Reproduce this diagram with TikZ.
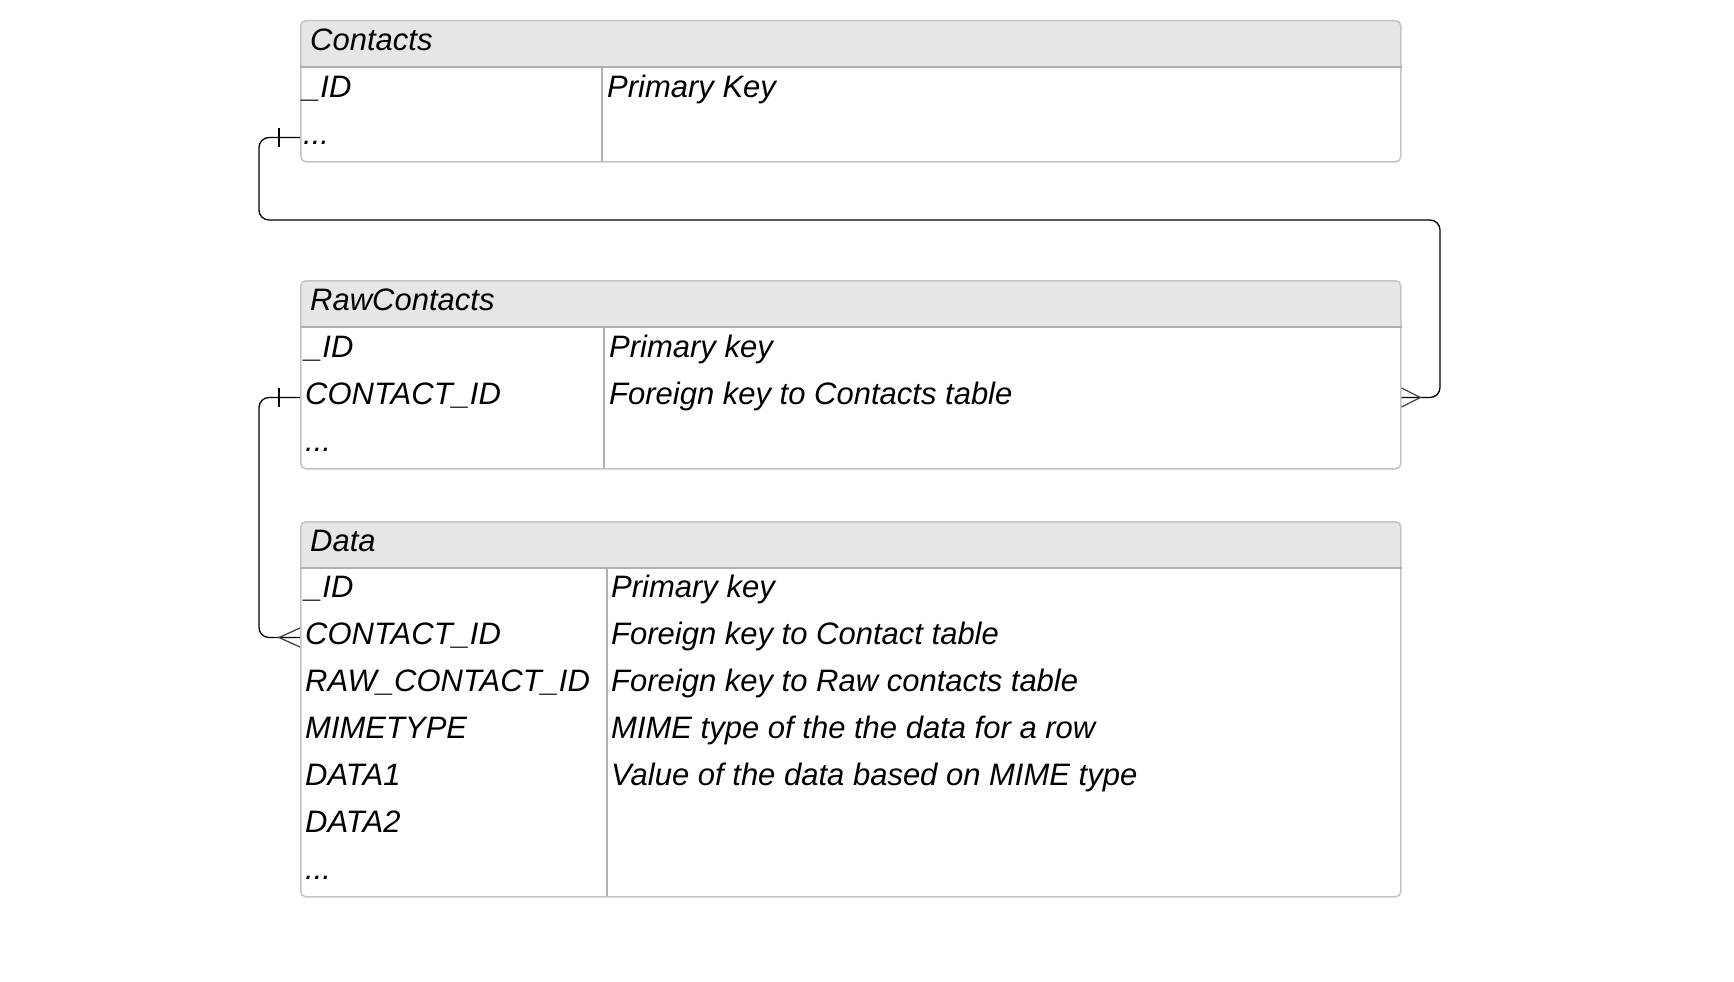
\documentclass[tikz,border=0pt]{standalone}
\usepackage{fontspec}
\setmainfont{Liberation Sans}
\definecolor{tblgray}{HTML}{C4C4C4}
\definecolor{sepgray}{HTML}{B0B0B0}
\definecolor{hdrgray}{HTML}{E6E6E6}
\definecolor{crowgray}{HTML}{444444}
\begin{document}
\begin{tikzpicture}[x=1pt,y=-1pt,
  tbl/.style={draw=tblgray, line width=1.5pt, rounded corners=5pt, fill=white, anchor=north west, inner sep=0pt, minimum width=1100pt,
    path picture={\fill[hdrgray] (path picture bounding box.north west) rectangle ([yshift=-47pt]path picture bounding box.north east);}},
  txt/.style={anchor=west, font=\fontsize{31}{37}\selectfont\itshape, text height=22pt, text depth=8pt, inner sep=0pt},
  sepline/.style={draw=sepgray, line width=1.5pt},
  conn/.style={draw=black, line width=1.3pt, rounded corners=10pt},
  crowline/.style={draw=crowgray, line width=1.3pt},
  tickline/.style={draw=black, line width=1.3pt}]
\useasboundingbox (0,0) rectangle (1734,982);

% ---- Contacts ----
\node[tbl, minimum height=141pt] (contacts) at (300,20) {};
\draw[sepline] ([yshift=-47pt]contacts.north west) -- ([yshift=-47pt]contacts.north east);
\draw[sepline] (602,67) -- (602,161);
\node[txt] (c-h) at (310,43.5) {Contacts};
\node[txt] (c-id) at (303,90.5) {\_ID};
\node[txt] (c-dots) at (303,137.5) {...};
\node[txt] (c-pk) at (607,90.5) {Primary Key};

% ---- RawContacts ----
\node[tbl, minimum height=188pt] (raw) at (300,280) {};
\draw[sepline] ([yshift=-47pt]raw.north west) -- ([yshift=-47pt]raw.north east);
\draw[sepline] (604,327) -- (604,468);
\node[txt] (r-h) at (310,303.5) {RawContacts};
\node[txt] (r-id) at (305,350.5) {\_ID};
\node[txt] (r-cid) at (305,397.5) {CONTACT\_ID};
\node[txt] (r-dots) at (305,444.5) {...};
\node[txt] (r-pk) at (609,350.5) {Primary key};
\node[txt] (r-fk) at (609,397.5) {Foreign key to Contacts table};

% ---- Data ----
\node[tbl, minimum height=375pt] (data) at (300,521) {};
\draw[sepline] ([yshift=-47pt]data.north west) -- ([yshift=-47pt]data.north east);
\draw[sepline] (607,568) -- (607,896);
\node[txt] (d-h) at (310,544.5) {Data};
\node[txt] (d-id) at (305,590.5) {\_ID};
\node[txt] (d-cid) at (305,637.5) {CONTACT\_ID};
\node[txt] (d-rcid) at (305,684.5) {RAW\_CONTACT\_ID};
\node[txt] (d-mime) at (305,731.5) {MIMETYPE};
\node[txt] (d-d1) at (305,778.5) {DATA1};
\node[txt] (d-d2) at (305,825.5) {DATA2};
\node[txt] (d-dots) at (305,872.5) {...};
\node[txt] (d-pk) at (611,590.5) {Primary key};
\node[txt] (d-fk1) at (611,637.5) {Foreign key to Contact table};
\node[txt] (d-fk2) at (611,684.5) {Foreign key to Raw contacts table};
\node[txt] (d-mt) at (611,731.5) {MIME type of the the data for a row};
\node[txt] (d-val) at (611,778.5) {Value of the data based on MIME type};

% ---- connector Contacts -> RawContacts ----
\coordinate (a1) at (contacts.west |- c-dots);
\coordinate (a2) at (raw.east |- r-cid);
\draw[conn] (a1) -| (259,220) -| (1440,397.5) -- (a2);
\draw[tickline] ([xshift=-21pt,yshift=-9.5pt]a1) -- ([xshift=-21pt,yshift=9.5pt]a1);
\draw[crowline] ([yshift=9.5pt]a2) -- ([xshift=19pt]a2) -- ([yshift=-9.5pt]a2);

% ---- connector RawContacts -> Data ----
\coordinate (b1) at (raw.west |- r-cid);
\coordinate (b2) at (data.west |- d-cid);
\draw[conn] (b1) -| (259,637.5) -- (b2);
\draw[tickline] ([xshift=-21pt,yshift=-9.5pt]b1) -- ([xshift=-21pt,yshift=9.5pt]b1);
\draw[crowline] ([yshift=9.5pt]b2) -- ([xshift=-21pt]b2) -- ([yshift=-9.5pt]b2);
\end{tikzpicture}
\end{document}
